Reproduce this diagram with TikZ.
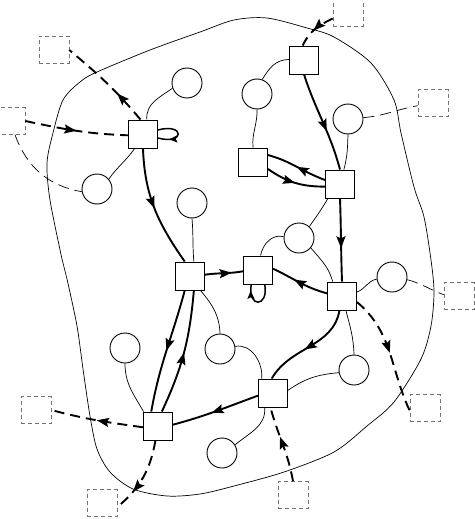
\documentclass[tikz,border=0pt]{standalone}
\usetikzlibrary{arrows.meta,decorations.markings}
\begin{document}
\begin{tikzpicture}[x=1pt,y=1pt,
 sq/.style={draw,line width=0.9pt,minimum width=29pt,minimum height=28pt,inner sep=0pt},
 cir/.style={draw,circle,line width=0.9pt,minimum size=30pt,inner sep=0pt},
 dsq/.style={draw=black!55,dash pattern=on 4pt off 3pt,line width=0.6pt,minimum width=30pt,minimum height=27pt,inner sep=0pt},
 thk/.style={line width=1.9pt},
 thn/.style={line width=0.7pt},
 dthk/.style={line width=1.9pt,dash pattern=on 10pt off 6pt},
 dthn/.style={line width=0.7pt,dash pattern=on 11pt off 6pt},
 arrat/.style={postaction={decorate},decoration={markings,mark=at position #1 with {\arrow{Stealth[length=12pt,width=9pt,inset=2pt]}}}},
 arrsm/.style={postaction={decorate},decoration={markings,mark=at position #1 with {\arrow{Stealth[length=8pt,width=7pt,inset=1.5pt]}}}},
]
\useasboundingbox (0,0) rectangle (474,-519);
% boundary
\draw[thn] plot[smooth cycle, tension=0.5] coordinates {(150,-50) (200,-32) (234,-20) (267,-18) (307,-28) (334,-37) (371,-63) (394,-100) (401,-133) (414,-187) (424,-217) (431,-260) (434,-292) (431,-326) (421,-359) (394,-402) (367,-426) (334,-452) (284,-472) (234,-486) (200,-494) (167,-496) (133,-489) (110,-472) (97,-449) (90,-416) (83,-369) (77,-326) (67,-279) (62,-259) (50,-200) (47,-163) (53,-133) (63,-100) (80,-82) (97,-72)};
% squares
\node[sq] (s1) at (143,-134) {};
\node[sq] (s2) at (304,-60) {};
\node[sq] (s3) at (253,-162) {};
\node[sq] (s4) at (340,-184) {};
\node[sq] (s5) at (190,-276) {};
\node[sq] (s6) at (258,-270) {};
\node[sq] (s7) at (342,-296) {};
\node[sq] (s8) at (273,-393) {};
\node[sq] (s9) at (158,-426) {};
% circles
\node[cir] (c1) at (187,-83) {};
\node[cir] (c2) at (97,-189) {};
\node[cir] (c3) at (192,-203) {};
\node[cir] (c4) at (257,-94) {};
\node[cir] (c5) at (348,-119) {};
\node[cir] (c6) at (299,-238) {};
\node[cir] (c7) at (392,-277) {};
\node[cir] (c8) at (354,-370) {};
\node[cir] (c9) at (125,-348) {};
\node[cir] (c10) at (220,-349) {};
\node[cir] (c11) at (222,-453) {};
% dashed boxes
\node[dsq] (d1) at (54,-50) {};
\node[dsq] (d2) at (10,-121) {};
\node[dsq] (d3) at (348,-13) {};
\node[dsq] (d4) at (433,-103) {};
\node[dsq] (d5) at (459,-296) {};
\node[dsq] (d6) at (425,-408) {};
\node[dsq] (d7) at (293,-495) {};
\node[dsq] (d8) at (36,-410) {};
\node[dsq] (d9) at (102,-503) {};
% thick arrows
\draw[thk,arrat=0.5] (s1.south) to[out=-88,in=125] (s5.110);
\draw[thk,arrat=0.6] (s2.south) to[out=-72,in=105] (s4.north);
\draw[thk,arrat=0.5] (s4.165) to[out=160,in=-15] (s3.25);
\draw[thk,arrat=0.5] (s3.-25) to[out=-35,in=180] (s4.190);
\draw[thk,arrat=0.6] (s4.south) to[out=-88,in=92] (s7.north);
\draw[thk,arrat=0.6] (s7.170) to[out=165,in=-25] (s6.5);
\draw[thk,arrat=0.7] (s5.5) to[out=8,in=190] (s6.185);
\draw[thk,arrat=0.5] (s5.-110) to[out=-105,in=80] (s9.115);
\draw[thk,arrat=0.5] (s9.75) to[out=65,in=-95] (s5.-75);
\draw[thk,arrat=0.55] (s7.-100) to[out=-100,in=60] (s8.95);
\draw[thk,arrat=0.55] (s8.190) to[out=200,in=15] (s9.5);
% loops
\draw[line width=1.5pt,arrsm=0.75] (s1.15) to[out=15,in=-15,distance=28pt] (s1.-15);
\draw[line width=1.5pt,arrsm=0.85] (s6.-65) to[out=-80,in=-100,distance=24pt] (s6.-115);
% thick dashed arrows
\draw[dthk,arrat=0.35] (s1.100) to[out=130,in=-40] (d1.east);
\draw[dthk,arrat=0.5] (d2.east) to[out=-12,in=178] (s1.185);
\draw[dthk,arrat=0.55] (d3.200) to[out=205,in=65] (s2.95);
\draw[dthk,arrat=0.5] (s7.-22) to[out=-40,in=115] (d6.190);
\draw[dthk,arrat=0.6] (d7.north) to[out=100,in=-75] (s8.-100);
\draw[dthk,arrat=0.5] (s9.185) to[out=172,in=-15] (d8.east);
\draw[dthk,arrat=0.72] (s9.-100) to[out=-100,in=40] (d9.-15);
% thin dashed
\draw[dthn] (d2.-70) to[out=-70,in=170] (c2.190);
\draw[dthn] (c5.5) to[out=5,in=190] (d4.190);
\draw[dthn] (c7.-10) to[out=-15,in=160] (d5.175);
% thin solid
\draw[thn] (s1.75) to[out=95,in=215] (c1.200);
\draw[thn] (s1.-120) to[out=-125,in=55] (c2.40);
\draw[thn] (c3.south) to[out=-85,in=95] (s5.75);
\draw[thn] (s2.178) to[out=180,in=60] (c4.70);
\draw[thn] (c4.south) to[out=-88,in=95] (s3.north);
\draw[thn] (c5.south) to[out=-92,in=75] (s4.75);
\draw[thn] (s4.-130) to[out=-120,in=55] (c6.48);
\draw[thn] (c6.175) to[out=165,in=80] (s6.80);
\draw[thn] (c6.-40) to[out=-50,in=105] (s7.123);
\draw[thn] (s7.15) to[out=20,in=190] (c7.188);
\draw[thn] (s7.-75) to[out=-75,in=92] (c8.north);
\draw[thn] (s5.-54) to[out=-50,in=92] (c10.north);
\draw[thn] (c10.10) to[out=10,in=85] (s8.128);
\draw[thn] (s8.10) to[out=35,in=185] (c8.190);
\draw[thn] (s8.-120) to[out=-85,in=40] (c11.32);
\draw[thn] (c9.south) to[out=-90,in=120] (s9.135);
\end{tikzpicture}
\end{document}
